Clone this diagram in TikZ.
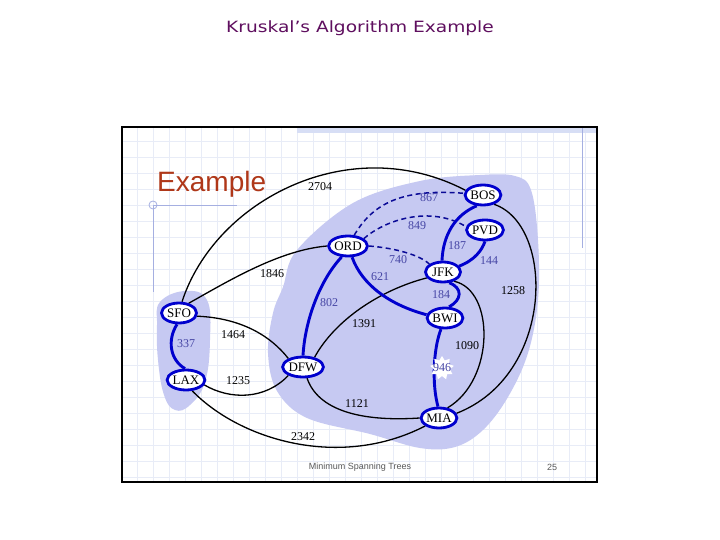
\documentclass[tikz,border=0pt]{standalone}
\usepackage{fontspec}
\setmainfont{Liberation Serif}
\newfontfamily\sansf{Liberation Sans}
\newfontfamily\titlef[FakeStretch=1.2]{DejaVu Sans}
\usetikzlibrary{shapes.geometric}
\pgfdeclarelayer{bg}
\pgfdeclarelayer{edges}
\pgfsetlayers{bg,edges,main}
\definecolor{nodeblue}{RGB}{0,0,205}
\definecolor{dashblue}{RGB}{10,10,150}
\definecolor{lblblue}{RGB}{70,70,165}
\definecolor{blobfill}{RGB}{198,201,242}
\definecolor{gridc}{RGB}{232,236,247}
\definecolor{decoc}{RGB}{165,175,225}
\definecolor{bandc}{RGB}{215,222,245}
\definecolor{titlec}{RGB}{95,15,95}
\definecolor{examplec}{RGB}{175,55,25}
\tikzset{
  apt/.style={ellipse, draw=nodeblue, line width=2.8pt, fill=white, inner sep=0pt,
    minimum width=35pt, minimum height=20pt, font=\fontsize{13}{13}\selectfont},
  gedge/.style={black, line width=1.3pt},
  mst/.style={nodeblue, line width=2.9pt},
  rej/.style={dashblue, line width=1.5pt, dash pattern=on 5pt off 3.5pt},
  wlbl/.style={font=\fontsize{12}{12}\selectfont, text=black, inner sep=0pt},
  blbl/.style={font=\fontsize{12}{12}\selectfont, text=lblblue, inner sep=0pt}
}
\begin{document}
\begin{tikzpicture}[x=1pt,y=-1pt]
\useasboundingbox (0,0) rectangle (720,540);
\begin{pgfonlayer}{bg}
\fill[white] (0,0) rectangle (720,540);
\begin{scope}
\clip (123,128) rectangle (596,481);
\foreach \gx in {137,153,...,600} \draw[gridc, line width=0.6pt] (\gx,128) -- (\gx,481);
\foreach \gy in {141,157,...,485} \draw[gridc, line width=0.6pt] (123,\gy) -- (596,\gy);
\end{scope}
\fill[bandc] (297,128) rectangle (596,133);
\draw[decoc, line width=0.8pt] (582,128) -- (582,248);
\draw[decoc, line width=0.8pt] (153,205) circle (4);
\draw[decoc, line width=0.8pt] (153,205) -- (237,205);
\draw[decoc, line width=0.8pt] (153,205) -- (153,292);
\fill[blobfill] plot[smooth cycle, tension=0.7] coordinates {(160,302) (185,291) (207,300) (210,340) (205,382) (190,405) (175,410) (164,395) (158,360) (157,325)};
\fill[blobfill] plot[smooth cycle, tension=0.6] coordinates {(283,287) (297,250) (353,203) (420,181) (480,175) (515,176) (531,190) (538,240) (538,300) (528,353) (508,397) (483,430) (455,447) (420,448) (370,434) (307,418) (277,391) (268,353) (273,313)};
\end{pgfonlayer}
% title
\node[font=\titlef\fontsize{15.5}{15.5}\selectfont, text=titlec] (title) at (360,28) {Kruskal’s Algorithm Example};
\node[font=\sansf\fontsize{28}{28}\selectfont, text=examplec, anchor=west, inner sep=0pt] (ex) at (157,184) {Example};
% nodes
\node[apt] (BOS) at (483,195) {BOS};
\node[apt] (PVD) at (485,230) {PVD};
\node[apt] (ORD) at (348,246) {ORD};
\node[apt] (JFK) at (443,272) {JFK};
\node[apt] (BWI) at (445,318) {BWI};
\node[apt] (SFO) at (179,313) {SFO};
\node[apt] (LAX) at (186,380) {LAX};
\node[apt] (DFW) at (303,367) {DFW};
\node[apt] (MIA) at (439,418) {MIA};
\begin{pgfonlayer}{edges}
% black edges
\draw[gedge] (SFO.75) .. controls (215,200) and (350,130) .. (BOS.165);
\draw[gedge] (SFO.45) .. controls (230,280) and (280,250) .. (ORD.180);
\draw[gedge] (SFO.-10) .. controls (240,318) and (270,335) .. (DFW.150);
\draw[gedge] (LAX.-15) .. controls (230,400) and (265,400) .. (DFW.-150);
\draw[gedge] (LAX.-60) .. controls (240,440) and (340,470) .. (MIA.-150);
\draw[gedge] (DFW.-70) .. controls (318,410) and (360,422) .. (MIA.180);
\draw[gedge] (DFW.40) .. controls (335,320) and (380,290) .. (JFK.-160);
\draw[gedge] (JFK.-40) .. controls (495,290) and (495,380) .. (MIA.50);
\draw[gedge] (BOS.-40) .. controls (555,225) and (555,375) .. (MIA.15);
% rejected (dashed)
\draw[rej] (ORD.60) .. controls (372,205) and (400,188) .. (BOS.175);
\draw[rej] (ORD.25) .. controls (385,220) and (430,205) .. (PVD.170);
\draw[rej] (ORD.0) .. controls (395,248) and (420,255) .. (JFK.150);
% MST edges
\draw[mst] (SFO.-100) .. controls (167,340) and (170,360) .. (LAX.95);
\draw[mst] (ORD.-120) .. controls (320,280) and (305,320) .. (DFW.90);
\draw[mst] (ORD.-70) .. controls (362,285) and (390,305) .. (BWI.170);
\draw[mst] (JFK.-60) .. controls (463,288) and (462,300) .. (BWI.70);
\draw[mst] (BWI.-110) .. controls (433,350) and (432,385) .. (MIA.95);
\draw[mst] (JFK.95) .. controls (443,235) and (455,215) .. (BOS.-120);
\draw[mst] (JFK.20) .. controls (475,260) and (482,250) .. (PVD.-90);
\end{pgfonlayer}
% labels
\node[wlbl] (l2704) at (320,187) {2704};
\node[wlbl] (l1846) at (272,274) {1846};
\node[wlbl] (l1464) at (233,335) {1464};
\node[wlbl] (l1235) at (238,381) {1235};
\node[wlbl] (l2342) at (303,437) {2342};
\node[wlbl] (l1121) at (357,404) {1121};
\node[wlbl] (l1391) at (364,324) {1391};
\node[wlbl] (l1090) at (467,346) {1090};
\node[wlbl] (l1258) at (513,291) {1258};
\node[blbl] (l337) at (186,344) {337};
\node[blbl] (l802) at (329,303) {802};
\node[blbl] (l621) at (380,277) {621};
\node[blbl] (l740) at (398,260) {740};
\node[blbl] (l867) at (429,198) {867};
\node[blbl] (l849) at (417,226) {849};
\node[blbl] (l187) at (457,246) {187};
\node[blbl] (l144) at (489,261) {144};
\node[blbl] (l184) at (441,295) {184};
\node[star, star points=9, star point ratio=1.5, fill=white, minimum size=24pt, inner sep=0pt] (st) at (442,368) {};
\node[blbl] (l946) at (442,368) {946};
% footer
\node[font=\sansf\fontsize{9}{9}\selectfont, text=black!65] (foot) at (360,467) {Minimum Spanning Trees};
\node[font=\sansf\fontsize{9}{9}\selectfont, text=black!65] (pg) at (552,467) {25};
% frame
\draw[black, line width=2pt] (122,127) rectangle (597,482);
\end{tikzpicture}
\end{document}
